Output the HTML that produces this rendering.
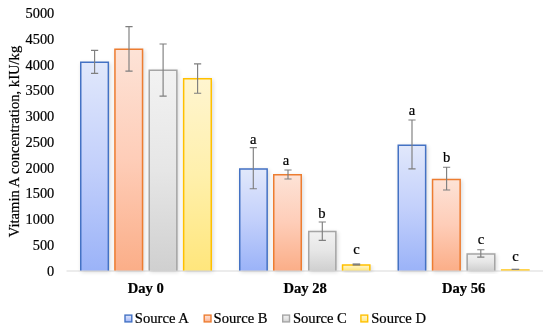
<!DOCTYPE html>
<html><head><meta charset="utf-8"><title>Vitamin A concentration</title>
<style>
html,body{margin:0;padding:0;background:#fff;}
body{width:550px;height:331px;overflow:hidden;}
svg{display:block;}
text{font-family:"Liberation Serif","Times New Roman",serif;fill:#000;stroke:#000;stroke-width:0.22px;}
</style></head><body>
<svg width="550" height="331" viewBox="0 0 550 331">
<defs>
<linearGradient id="gb" x1="0" y1="0" x2="0" y2="1"><stop offset="0" stop-color="#e1e8fb"/><stop offset="0.5" stop-color="#c3d0fb"/><stop offset="1" stop-color="#9bb3f8"/></linearGradient>
<linearGradient id="go" x1="0" y1="0" x2="0" y2="1"><stop offset="0" stop-color="#fde3d7"/><stop offset="0.5" stop-color="#fecdb8"/><stop offset="1" stop-color="#fbae88"/></linearGradient>
<linearGradient id="gg" x1="0" y1="0" x2="0" y2="1"><stop offset="0" stop-color="#f2f2f2"/><stop offset="0.5" stop-color="#e6e6e6"/><stop offset="1" stop-color="#d0d0d0"/></linearGradient>
<linearGradient id="gy" x1="0" y1="0" x2="0" y2="1"><stop offset="0" stop-color="#fff5d0"/><stop offset="0.5" stop-color="#fff0ac"/><stop offset="1" stop-color="#ffe67c"/></linearGradient>
<filter id="sh" x="-30%" y="-10%" width="160%" height="120%"><feGaussianBlur stdDeviation="2"/></filter>
</defs>
<rect width="550" height="331" fill="#fff"/>
<line x1="66.5" y1="271" x2="543" y2="271" stroke="#d9d9d9" stroke-width="1"/>
<text transform="translate(54.3,275.6) scale(0.935,1)" font-size="15.4" text-anchor="end">0</text>
<text transform="translate(54.3,249.8) scale(0.935,1)" font-size="15.4" text-anchor="end">500</text>
<text transform="translate(54.3,224.1) scale(0.935,1)" font-size="15.4" text-anchor="end">1000</text>
<text transform="translate(54.3,198.3) scale(0.935,1)" font-size="15.4" text-anchor="end">1500</text>
<text transform="translate(54.3,172.6) scale(0.935,1)" font-size="15.4" text-anchor="end">2000</text>
<text transform="translate(54.3,146.8) scale(0.935,1)" font-size="15.4" text-anchor="end">2500</text>
<text transform="translate(54.3,121.1) scale(0.935,1)" font-size="15.4" text-anchor="end">3000</text>
<text transform="translate(54.3,95.3) scale(0.935,1)" font-size="15.4" text-anchor="end">3500</text>
<text transform="translate(54.3,69.6) scale(0.935,1)" font-size="15.4" text-anchor="end">4000</text>
<text transform="translate(54.3,43.9) scale(0.935,1)" font-size="15.4" text-anchor="end">4500</text>
<text transform="translate(54.3,18.1) scale(0.935,1)" font-size="15.4" text-anchor="end">5000</text>
<text transform="translate(18.5,141.5) rotate(-90) scale(0.95,1)" font-size="15.4" text-anchor="middle">Vitamin A concentration, kIU/kg</text>
<rect x="81.2" y="63.0" width="29.1" height="209.0" fill="#000" opacity="0.15" filter="url(#sh)"/>
<rect x="115.4" y="49.9" width="29.1" height="222.1" fill="#000" opacity="0.15" filter="url(#sh)"/>
<rect x="149.7" y="71.1" width="29.1" height="200.9" fill="#000" opacity="0.15" filter="url(#sh)"/>
<rect x="184.1" y="79.5" width="29.1" height="192.5" fill="#000" opacity="0.15" filter="url(#sh)"/>
<rect x="240.2" y="169.8" width="28.9" height="102.2" fill="#000" opacity="0.15" filter="url(#sh)"/>
<rect x="274.2" y="175.6" width="29.0" height="96.4" fill="#000" opacity="0.15" filter="url(#sh)"/>
<rect x="309.2" y="232.2" width="28.6" height="39.8" fill="#000" opacity="0.15" filter="url(#sh)"/>
<rect x="343.0" y="265.7" width="28.8" height="6.3" fill="#000" opacity="0.15" filter="url(#sh)"/>
<rect x="398.7" y="145.9" width="28.9" height="126.1" fill="#000" opacity="0.15" filter="url(#sh)"/>
<rect x="433.0" y="180.2" width="29.1" height="91.8" fill="#000" opacity="0.15" filter="url(#sh)"/>
<rect x="467.6" y="254.7" width="29.1" height="17.3" fill="#000" opacity="0.15" filter="url(#sh)"/>
<rect x="80.50" y="62.00" width="28.10" height="208.50" fill="url(#gb)"/>
<path d="M80.75 270.50V62.25H108.35V270.50" fill="none" stroke="#4472C4" stroke-width="1.5"/>
<rect x="114.70" y="48.90" width="28.10" height="221.60" fill="url(#go)"/>
<path d="M114.95 270.50V49.15H142.55V270.50" fill="none" stroke="#ED7D31" stroke-width="1.5"/>
<rect x="149.00" y="70.10" width="28.10" height="200.40" fill="url(#gg)"/>
<path d="M149.25 270.50V70.35H176.85V270.50" fill="none" stroke="#A5A5A5" stroke-width="1.5"/>
<rect x="183.40" y="78.50" width="28.10" height="192.00" fill="url(#gy)"/>
<path d="M183.65 270.50V78.75H211.25V270.50" fill="none" stroke="#FFC000" stroke-width="1.5"/>
<rect x="239.50" y="168.80" width="27.90" height="101.70" fill="url(#gb)"/>
<path d="M239.75 270.50V169.05H267.15V270.50" fill="none" stroke="#4472C4" stroke-width="1.5"/>
<rect x="273.50" y="174.60" width="28.00" height="95.90" fill="url(#go)"/>
<path d="M273.75 270.50V174.85H301.25V270.50" fill="none" stroke="#ED7D31" stroke-width="1.5"/>
<rect x="308.50" y="231.20" width="27.60" height="39.30" fill="url(#gg)"/>
<path d="M308.75 270.50V231.45H335.85V270.50" fill="none" stroke="#A5A5A5" stroke-width="1.5"/>
<rect x="342.30" y="264.70" width="27.80" height="5.80" fill="url(#gy)"/>
<path d="M342.55 270.50V264.95H369.85V270.50" fill="none" stroke="#FFC000" stroke-width="1.5"/>
<rect x="398.00" y="144.90" width="27.90" height="125.60" fill="url(#gb)"/>
<path d="M398.25 270.50V145.15H425.65V270.50" fill="none" stroke="#4472C4" stroke-width="1.5"/>
<rect x="432.30" y="179.20" width="28.10" height="91.30" fill="url(#go)"/>
<path d="M432.55 270.50V179.45H460.15V270.50" fill="none" stroke="#ED7D31" stroke-width="1.5"/>
<rect x="466.90" y="253.70" width="28.10" height="16.80" fill="url(#gg)"/>
<path d="M467.15 270.50V253.95H494.75V270.50" fill="none" stroke="#A5A5A5" stroke-width="1.5"/>
<rect x="500.9" y="269.3" width="28.8" height="1.2" fill="#FFC000"/>
<path d="M91.0 50.4H98.2M94.6 50.4V73.3M91.0 73.3H98.2" stroke="#7f7f7f" stroke-width="1.15" fill="none"/>
<path d="M125.4 26.6H132.6M129.0 26.6V71.1M125.4 71.1H132.6" stroke="#7f7f7f" stroke-width="1.15" fill="none"/>
<path d="M159.5 44.0H166.7M163.1 44.0V96.1M159.5 96.1H166.7" stroke="#7f7f7f" stroke-width="1.15" fill="none"/>
<path d="M194.0 63.8H201.2M197.6 63.8V93.2M194.0 93.2H201.2" stroke="#7f7f7f" stroke-width="1.15" fill="none"/>
<path d="M249.7 147.6H256.9M253.3 147.6V188.7M249.7 188.7H256.9" stroke="#7f7f7f" stroke-width="1.15" fill="none"/>
<text transform="translate(253.3,143.9) scale(0.95,1)" font-size="15.4" text-anchor="middle">a</text>
<path d="M284.4 170.0H291.6M288.0 170.0V179.0M284.4 179.0H291.6" stroke="#7f7f7f" stroke-width="1.15" fill="none"/>
<text transform="translate(286.0,164.8) scale(0.95,1)" font-size="15.4" text-anchor="middle">a</text>
<path d="M318.7 222.0H325.9M322.3 222.0V240.3M318.7 240.3H325.9" stroke="#7f7f7f" stroke-width="1.15" fill="none"/>
<text transform="translate(322.0,217.6) scale(0.95,1)" font-size="15.4" text-anchor="middle">b</text>
<rect x="352.6" y="263.4" width="7.6" height="2.2" fill="#7f7f7f"/>
<text transform="translate(356.4,254.0) scale(0.95,1)" font-size="15.4" text-anchor="middle">c</text>
<path d="M408.4 120.0H415.6M412.0 120.0V168.8M408.4 168.8H415.6" stroke="#7f7f7f" stroke-width="1.15" fill="none"/>
<text transform="translate(412.1,115.3) scale(0.95,1)" font-size="15.4" text-anchor="middle">a</text>
<path d="M443.0 167.2H450.2M446.6 167.2V190.0M443.0 190.0H450.2" stroke="#7f7f7f" stroke-width="1.15" fill="none"/>
<text transform="translate(446.6,161.6) scale(0.95,1)" font-size="15.4" text-anchor="middle">b</text>
<path d="M477.2 249.7H484.4M480.8 249.7V257.1M477.2 257.1H484.4" stroke="#7f7f7f" stroke-width="1.15" fill="none"/>
<text transform="translate(480.9,244.4) scale(0.95,1)" font-size="15.4" text-anchor="middle">c</text>
<rect x="511.6" y="268.7" width="7.6" height="1.3" fill="#7f7f7f"/>
<text transform="translate(515.4,260.6) scale(0.95,1)" font-size="15.4" text-anchor="middle">c</text>
<text transform="translate(145.8,293.4) scale(0.95,1)" font-size="15.4" text-anchor="middle" font-weight="bold">Day 0</text>
<text transform="translate(305.1,293.4) scale(0.95,1)" font-size="15.4" text-anchor="middle" font-weight="bold">Day 28</text>
<text transform="translate(463.7,293.4) scale(0.95,1)" font-size="15.4" text-anchor="middle" font-weight="bold">Day 56</text>
<rect x="125.0" y="315.1" width="6.8" height="6.8" fill="url(#gb)" stroke="#4472C4" stroke-width="1.4"/>
<text transform="translate(134.8,323.3) scale(0.95,1)" font-size="15.4">Source A</text>
<rect x="204.2" y="315.1" width="6.8" height="6.8" fill="url(#go)" stroke="#ED7D31" stroke-width="1.4"/>
<text transform="translate(213.6,323.3) scale(0.95,1)" font-size="15.4">Source B</text>
<rect x="282.7" y="315.1" width="6.8" height="6.8" fill="url(#gg)" stroke="#A5A5A5" stroke-width="1.4"/>
<text transform="translate(292.9,323.3) scale(0.95,1)" font-size="15.4">Source C</text>
<rect x="360.9" y="315.1" width="6.8" height="6.8" fill="url(#gy)" stroke="#FFC000" stroke-width="1.4"/>
<text transform="translate(371.2,323.3) scale(0.95,1)" font-size="15.4">Source D</text>
</svg></body></html>
